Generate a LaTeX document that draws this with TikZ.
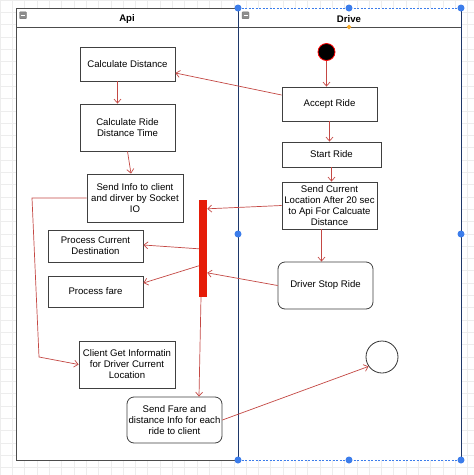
\documentclass[tikz,border=0pt]{standalone}
\usepackage{fontspec}
\setmainfont{Liberation Sans}
\usetikzlibrary{arrows.meta,calc,shapes.geometric}
\definecolor{edge}{RGB}{196,72,68}
\definecolor{barred}{RGB}{229,28,8}
\definecolor{selblue}{RGB}{60,125,235}
\definecolor{navy}{RGB}{30,55,105}
\definecolor{handle}{RGB}{245,166,35}
\begin{document}
\begin{tikzpicture}[x=1pt,y=-1pt,
  box/.style={draw=black!75,line width=0.8pt,fill=white,align=center,inner sep=0pt,
    font=\fontsize{9.6}{11}\selectfont},
  rbox/.style={box,rounded corners=7pt},
  flow/.style={draw=edge,line width=0.7pt,-{Straight Barb[length=4pt,width=7pt]}},
  lane/.style={draw=black!70,line width=0.9pt},
  lanetitle/.style={font=\fontsize{9.6}{11}\selectfont\bfseries},
  dot/.style={circle,fill=selblue,inner sep=0pt,minimum size=7pt},
  icon/.style={fill=black!45,draw=black!55,line width=0.3pt,inner sep=0pt,minimum width=7pt,minimum height=7pt,rounded corners=0.8pt},
]
\useasboundingbox (0,0) rectangle (474,475);
\fill[white] (0,0) rectangle (474,475);
% grid
\foreach \gx in {0,12.3,...,474} \draw[black!7,line width=0.4pt] (\gx,0) -- (\gx,475);
\foreach \gy in {0,12.3,...,475} \draw[black!7,line width=0.4pt] (0,\gy) -- (474,\gy);

% lanes
\fill[white] (16,8) rectangle (461,460);
\draw[lane] (238,8) -- (16,8) -- (16,460) -- (238,460);
\draw[lane] (16,27) -- (461,27);
\draw[navy,line width=0.9pt] (238,8) -- (238,460);
\draw[navy,line width=0.9pt] (461,8) -- (461,460);
\draw[selblue,line width=0.9pt,dashed,dash pattern=on 2pt off 1.5pt] (238,8) -- (461,8);
\draw[selblue,line width=0.9pt,dashed,dash pattern=on 2pt off 1.5pt] (238,460) -- (461,460);
\node[lanetitle] (apititle) at (127,19) {Api};
\node[lanetitle] (drivetitle) at (349,19) {Drive};
\node[icon] (apiicon) at (23,15.3) {};
\draw[white,line width=0.7pt] ([xshift=-2pt]apiicon.center) -- ([xshift=2pt]apiicon.center);
\node[icon] (driveicon) at (245.5,15.3) {};
\draw[white,line width=0.7pt] ([xshift=-2pt]driveicon.center) -- ([xshift=2pt]driveicon.center);

% Api nodes
\node[box,minimum width=95pt,minimum height=34pt] (cd) at (127.5,64) {Calculate Distance};
\node[box,minimum width=95pt,minimum height=47pt] (crdt) at (127.5,127.5) {Calculate Ride\\Distance Time};
\node[box,minimum width=96pt,minimum height=48pt] (sic) at (135,198) {Send Info to client\\and dirver by Socket\\IO};
\node[box,minimum width=95pt,minimum height=32pt] (pcd) at (95.5,246) {Process Current\\Destination};
\node[box,minimum width=95pt,minimum height=31pt] (pf) at (95.5,291.5) {Process fare};
\node[box,minimum width=96pt,minimum height=47pt] (cgi) at (127,364.5) {Client Get Informatin\\for Driver Current\\Location};
\node[rbox,minimum width=95pt,minimum height=46pt] (sfd) at (174.5,420) {Send Fare and\\distance Info for each\\ride to client};
\node[fill=barred,inner sep=0pt,minimum width=8pt,minimum height=97pt] (bar) at (203,248.5) {};

% Drive nodes
\node[circle,fill=black,draw=red,line width=0.8pt,inner sep=0pt,minimum size=17pt] (start) at (326.5,52) {};
\node[box,minimum width=95pt,minimum height=34pt] (ar) at (329.5,104) {Accept Ride};
\node[box,minimum width=99pt,minimum height=25pt] (sr) at (331.5,154.5) {Start Ride};
\node[box,minimum width=95pt,minimum height=47pt] (scl) at (329.5,205.5) {Send Current\\Location After 20 sec\\to Api For Calcuate\\Distance};
\node[rbox,minimum width=95pt,minimum height=47pt] (dsr) at (325.5,285.5) {Driver Stop Ride};
\node[circle,draw=black!80,line width=0.8pt,fill=white,inner sep=0pt,minimum size=32pt] (end) at (382,357) {};

% connectors
\coordinate (c1) at (32,198);
\coordinate (c2) at (39,357);
\draw[flow] (start.south) -- (start.south |- ar.north);
\draw[flow] ([yshift=9pt]ar.west) -- ([yshift=-9pt]cd.east);
\draw[flow] ([xshift=-10pt]cd.south) -- ([xshift=-10pt]crdt.north);
\draw[flow] (crdt.south) -- ([xshift=-4pt]sic.north);
\draw[flow] (ar.south) -- (ar.south |- sr.north);
\draw[flow] (sr.south) -- (sr.south |- scl.north);
\draw[flow] (scl.west) -- ($(bar.north east)+(0,9)$);
\draw[flow] ([xshift=-8pt]scl.south) -- ([xshift=-8pt]scl.south |- dsr.north);
\draw[flow] (dsr.west) -- ($(bar.north east)+(0,73)$);
\draw[flow] ($(bar.north west)+(0,49)$) -- ([yshift=1pt]pcd.east);
\draw[flow] ($(bar.north west)+(0,66)$) -- ([yshift=8.5pt]pf.east);
\draw[flow] ([xshift=-2pt]bar.south) -- ([xshift=24.5pt]sfd.north);
\draw[flow] (sic.west) -- (c1) -- (c2) -- (cgi.west);
\draw[flow] (sfd.east) -- (end.215);

% selection handles
\foreach \hx/\hy [count=\i] in {238/8,349/8,461/8,238/234,461/234,238/460,349/460,461/460}
  \node[dot] (h\i) at (\hx,\hy) {};
\node[diamond,fill=handle,inner sep=0pt,minimum size=5pt] (hd) at (349,27) {};
\end{tikzpicture}
\end{document}
